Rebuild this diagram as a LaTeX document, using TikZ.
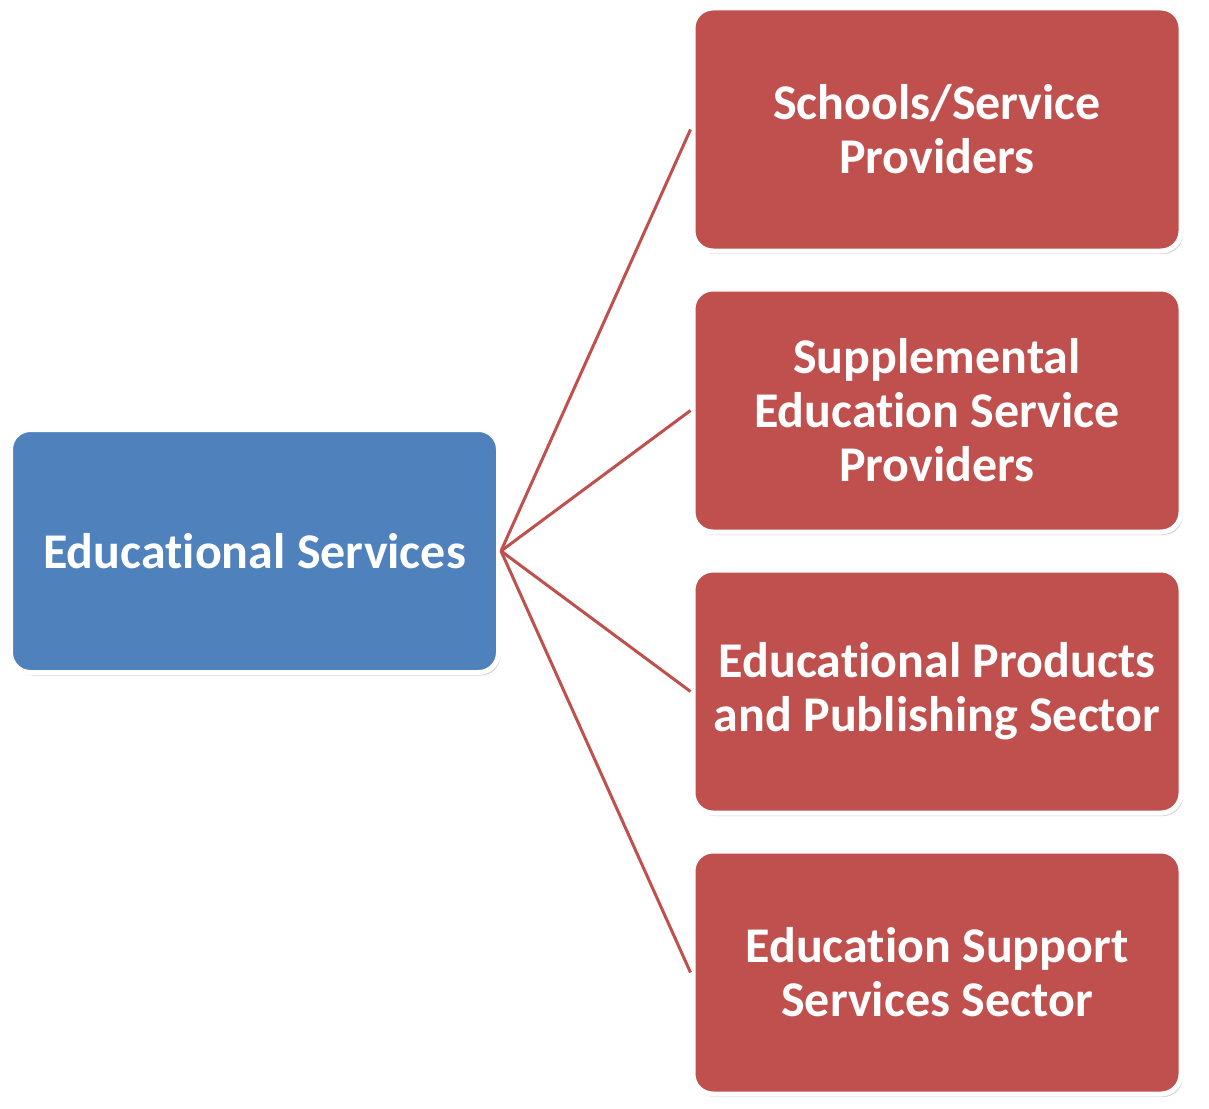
\documentclass[tikz,border=0pt]{standalone}
\usepackage{fontspec}
\setmainfont[RawFeature=-liga]{Carlito}
\usetikzlibrary{shadows}
\definecolor{boxred}{HTML}{C0504D}
\definecolor{boxblue}{HTML}{4F81BD}
\begin{document}
\begin{tikzpicture}[x=1pt,y=-1pt,
  card/.style={rectangle, rounded corners=20pt, draw=white, line width=5pt,
    minimum width=488pt, minimum height=243pt, align=center,
    text=white, font=\fontsize{50}{54}\selectfont\bfseries,
    drop shadow={shadow xshift=2pt, shadow yshift=-3pt, opacity=0.3, fill=black!60}},
  redcard/.style={card, fill=boxred},
  bluecard/.style={card, fill=boxblue},
  link/.style={draw=boxred, line width=3pt}]
\useasboundingbox (0,0) rectangle (1209,1108);
\node[bluecard] (es) at (254.5,551) {Educational Services};
\node[redcard] (r1) at (937,129.5) {Schools/Service\\Providers};
\node[redcard] (r2) at (937,410.5) {Supplemental\\Education Service\\Providers};
\node[redcard] (r3) at (937,691.5) {Educational Products\\and Publishing Sector};
\node[redcard] (r4) at (937,972.5) {Education Support\\Services Sector};
\draw[link] (es.east) -- (r1.west);
\draw[link] (es.east) -- (r2.west);
\draw[link] (es.east) -- (r3.west);
\draw[link] (es.east) -- (r4.west);
\end{tikzpicture}
\end{document}
